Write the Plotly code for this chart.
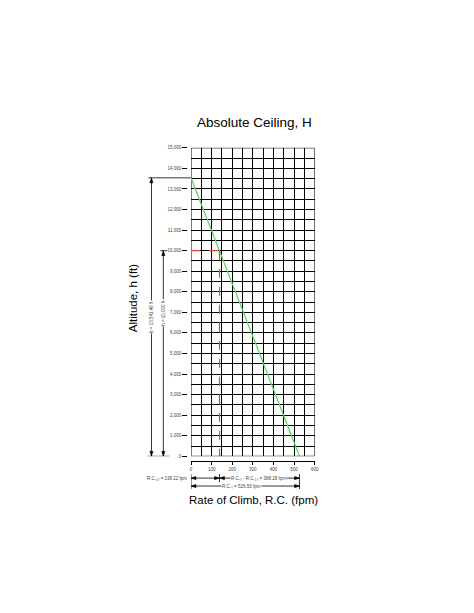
import plotly.graph_objects as go

# ---- data ----
ceiling_ft = 13541.46          # absolute ceiling H
alt_ft = 10000                 # chosen altitude h
rc_sea_level = 526.50          # R.C. at sea level (fpm)
rc_at_alt = 138.22             # R.C. at 10,000 ft (fpm)
rc_diff = 388.28               # R.C.0 - R.C.10

line_x = [0, rc_sea_level]
line_y = [ceiling_ft, 0]
hline_x = [0, rc_at_alt]
hline_y = [alt_ft, alt_ft]
vline_x = [rc_at_alt, rc_at_alt]
vline_y = [alt_ft, 0]

x_range = [0, 600]
y_range = [0, 15000]

# page has an 8px body margin; figure fills the rest of the 474x613 window
OFF = 8
W, H = 474 - OFF, 613 - OFF
def px(p):
    return (p - OFF) / W
def py(p):
    return 1 - (p - OFF) / H

FONT = "Liberation Sans, Arial, sans-serif"
small = dict(family=FONT, size=4.5, color="#444")

fig = go.Figure()
fig.add_trace(go.Scatter(x=line_x, y=line_y, mode="lines",
                         line=dict(color="#5fd35f", width=1.2), hoverinfo="skip"))
fig.add_trace(go.Scatter(x=hline_x, y=hline_y, mode="lines",
                         line=dict(color="#e8413c", width=1.2, dash="dash"), hoverinfo="skip"))
fig.add_trace(go.Scatter(x=vline_x, y=vline_y, mode="lines",
                         line=dict(color="#e8413c", width=1.2, dash="dash"), hoverinfo="skip"))

shapes = []
LW = 0.8
# plot frame
shapes.append(dict(type="rect", xref="x", yref="y", x0=x_range[0], x1=x_range[1],
                   y0=y_range[0], y1=y_range[1], line=dict(color="black", width=1),
                   layer="below"))
# left extension lines
for y, a, b in [(0, 148, 170), (ceiling_ft, 149, 192), (alt_ft, 161, 168)]:
    shapes.append(dict(type="line", xref="paper", yref="y", x0=px(a), x1=px(b),
                       y0=y, y1=y, line=dict(color="black", width=LW)))
# bottom extension lines
for x, a, b in [(0, 476, 491), (rc_sea_level, 476, 491), (rc_at_alt, 476, 484)]:
    shapes.append(dict(type="line", xref="x", yref="paper", x0=x, x1=x,
                       y0=py(a), y1=py(b), line=dict(color="black", width=LW)))

UP = "M0,0 L-1.6,-5 L1.6,-5 Z"
DOWN = "M0,0 L-1.6,5 L1.6,5 Z"
LEFT = "M0,0 L5,1.6 L5,-1.6 Z"
RIGHT = "M0,0 L-5,1.6 L-5,-1.6 Z"

def head(xref, yref, xa, ya, path):
    shapes.append(dict(type="path", xref=xref, yref=yref, xsizemode="pixel",
                       ysizemode="pixel", xanchor=xa, yanchor=ya, path=path,
                       fillcolor="black", line=dict(color="black", width=0.5)))

def varrow(xp, y0, y1):
    shapes.append(dict(type="line", xref="paper", yref="y", x0=px(xp), x1=px(xp),
                       y0=y0, y1=y1, line=dict(color="black", width=LW)))
    head("paper", "y", px(xp), y1, UP)
    head("paper", "y", px(xp), y0, DOWN)

def harrow(yp, x0, x1):
    shapes.append(dict(type="line", xref="x", yref="paper", x0=x0, x1=x1,
                       y0=py(yp), y1=py(yp), line=dict(color="black", width=LW)))
    head("x", "paper", x0, py(yp), LEFT)
    head("x", "paper", x1, py(yp), RIGHT)

varrow(152, 0, ceiling_ft)
varrow(164, 0, alt_ft)
harrow(480, 0, rc_at_alt)
harrow(480, rc_at_alt, rc_sea_level)
harrow(488, 0, rc_sea_level)

ann = []
def label(xp, yp, text, font, angle=0, xanchor="center", bg=None):
    d = dict(xref="paper", yref="paper", x=px(xp), y=py(yp), text=text,
             textangle=angle, showarrow=False, xanchor=xanchor, yanchor="middle",
             font=font, borderpad=0)
    if bg:
        d["bgcolor"] = bg
    ann.append(d)

label(152, 317, f"h = {ceiling_ft:,.2f} ft", small, angle=-90, bg="white")
label(164, 313, f"h = {alt_ft:,} ft", small, angle=-90, bg="white")
label(189, 480, f"R.C.₁₀ = {rc_at_alt:.2f} fpm", small, xanchor="right", bg="white")
label(260, 480, f"R.C.₀ - R.C.₁₀ = {rc_diff:.2f} fpm", small, bg="white")
label(243, 488, f"R.C.₀ = {rc_sea_level:.2f} fpm", small, bg="white")

# titles
label(256, 121, "Absolute Ceiling, H", dict(family=FONT, size=13.5, color="black"))
label(255, 502, "Rate of Climb, R.C. (fpm)", dict(family=FONT, size=11.5, color="black"))
label(133, 298, "Altitude, h (ft)", dict(family=FONT, size=11.5, color="black"), angle=-90)

fig.update_layout(
    width=W, height=H, margin=dict(l=0, r=0, t=0, b=0),
    paper_bgcolor="white", plot_bgcolor="white", showlegend=False,
    shapes=shapes, annotations=ann,
    xaxis=dict(domain=[px(192), px(317)], range=x_range, anchor="free",
               position=py(463), showline=True, linecolor="black", linewidth=0.8,
               ticks="outside", ticklen=3, tickcolor="black", tickwidth=0.6,
               dtick=100, tick0=0, tickfont=small,
               showgrid=True, gridcolor="black", gridwidth=1, zeroline=False,
               minor=dict(dtick=50, tick0=0, showgrid=True, gridcolor="black",
                          gridwidth=1, ticks="")),
    yaxis=dict(domain=[py(458), py(147)], range=y_range, anchor="free",
               position=px(188), showline=False,
               ticks="outside", ticklen=5, tickcolor="black", tickwidth=0.6,
               dtick=1000, tick0=0, tickformat=",d", tickfont=small,
               showgrid=True, gridcolor="black", gridwidth=1, zeroline=False,
               minor=dict(dtick=500, tick0=0, showgrid=True, gridcolor="black",
                          gridwidth=1, ticks="")),
)

fig.write_html("out.html")
